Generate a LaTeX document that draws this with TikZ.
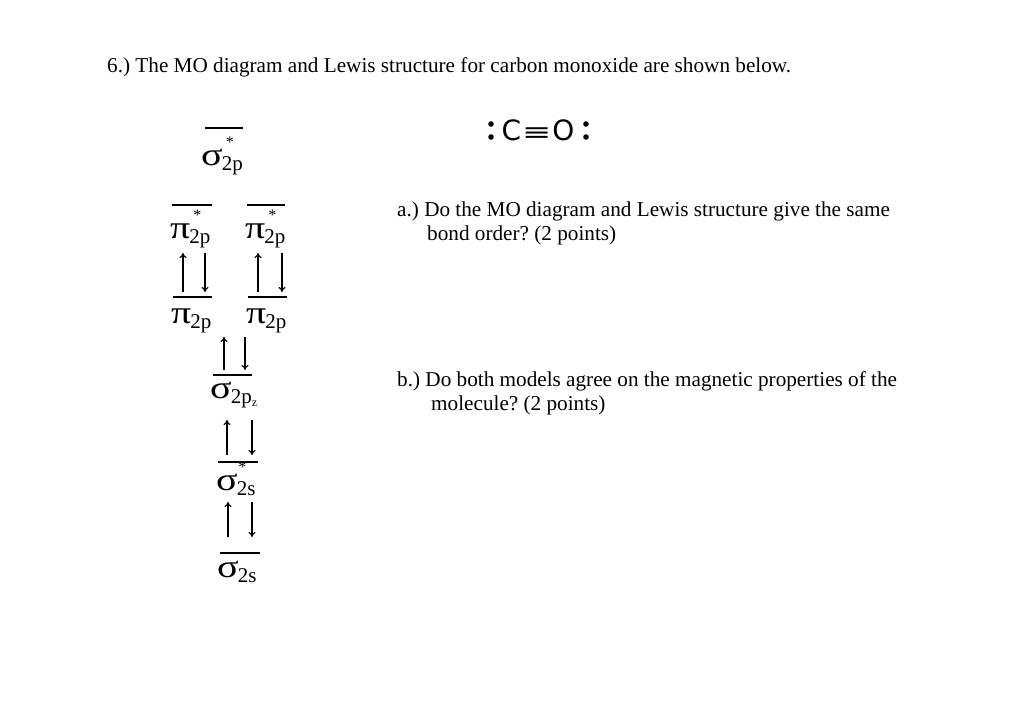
\documentclass[tikz,border=0pt]{standalone}
\usepackage{fontspec}
\setmainfont{Liberation Serif}
\newfontfamily\dejavu{DejaVu Sans}
\usetikzlibrary{arrows.meta}
\newcommand{\orb}[3]{{\fontsize{32}{32}\selectfont\scalebox{1.25}[1]{#1}}\kern-1pt\raisebox{-5pt}{\fontsize{21}{21}\selectfont #2}\llap{\raisebox{18pt}{\fontsize{16}{16}\selectfont #3\kern9pt}}}
\begin{document}
\frenchspacing
\begin{tikzpicture}[x=1pt,y=-1pt,
  txt/.style={anchor=base west,inner sep=0pt,font=\fontsize{21.2}{24}\selectfont},
  lvl/.style={line width=1.6pt},
  lab/.style={inner sep=0pt,anchor=base west},
  el/.style={line width=1.2pt,-{To[length=5pt,width=7pt]}}]
\useasboundingbox (0,0) rectangle (1024,709);
\node[txt] (h) at (107,72) {6.) The MO diagram and Lewis structure for carbon monoxide are shown below.};
\node[txt] (a1) at (397,216) {a.) Do the MO diagram and Lewis structure give the same};
\node[txt] (a2) at (427,240) {bond order? (2 points)};
\node[txt] (b1) at (397,386) {b.) Do both models agree on the magnetic properties of the};
\node[txt] (b2) at (431,410) {molecule? (2 points)};
% Lewis
\node[inner sep=0pt,font=\dejavu\fontsize{28}{30}\selectfont] (lw) at (538,130) {C\kern1pt\scalebox{1.25}[0.85]{≡}\kern1pt O};
\foreach \x/\y in {491/124,491/137,586/124,586/137} \fill (\x,\y) circle (2.8);
% levels
\draw[lvl] (205,128) -- (243,128);
\node[lab] (s2p) at (201,165) {\orb{σ}{2p}{*}};
\draw[lvl] (172,205) -- (212,205);
\draw[lvl] (247,205) -- (285,205);
\node[lab] (pa) at (170,238) {\orb{π}{2p}{*}};
\node[lab] (pb) at (245,238) {\orb{π}{2p}{*}};
\draw[lvl] (173,297) -- (212,297);
\draw[lvl] (248,297) -- (287,297);
\node[lab] (pc) at (171,323) {\orb{π}{2p}{}};
\node[lab] (pd) at (246,323) {\orb{π}{2p}{}};
\draw[lvl] (213,375) -- (252,375);
\node[lab] (sz) at (210,398) {\orb{σ}{2p\raisebox{-3pt}{\fontsize{12}{12}\selectfont z}}{}};
\draw[lvl] (218,462) -- (258,462);
\node[lab] (ss) at (216,490) {\orb{σ}{2s}{*}};
\draw[lvl] (220,553) -- (260,553);
\node[lab] (s) at (217,577) {\orb{σ}{2s}{}};
% electrons
\foreach \xa/\xb/\ya/\yb in {183/205/292/253, 258/282/292/253, 224/245/370/337, 227/252/455/420, 228/252/537/502}{
  \draw[el] (\xa,\ya) -- (\xa,\yb);
  \draw[el] (\xb,\yb) -- (\xb,\ya);
}
\end{tikzpicture}
\end{document}
